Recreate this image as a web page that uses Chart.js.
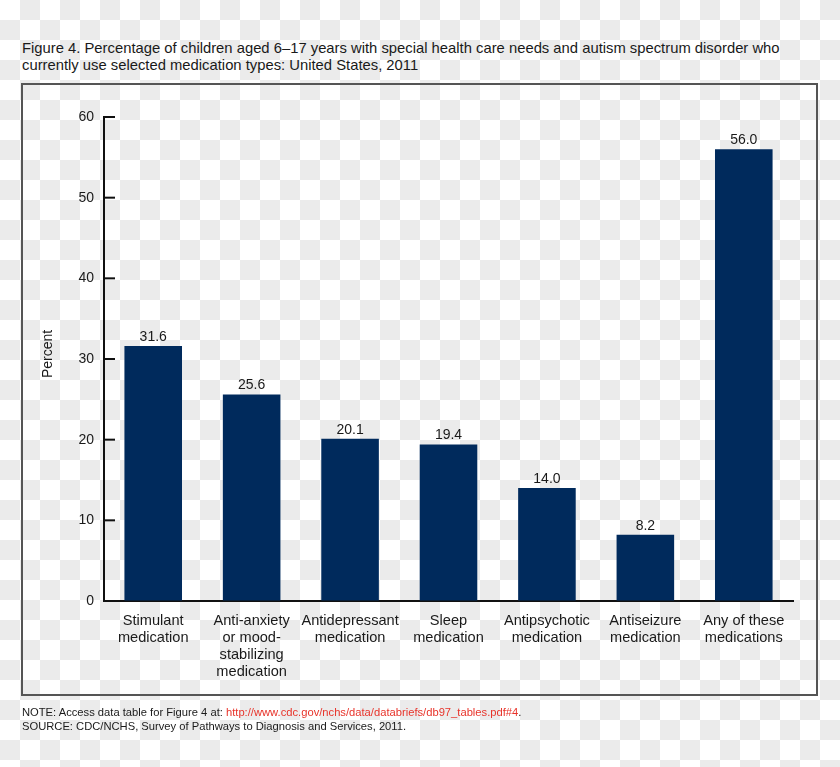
<!DOCTYPE html>
<html>
<head>
<meta charset="utf-8">
<script src="https://cdn.jsdelivr.net/npm/chart.js@4.4.0/dist/chart.umd.min.js"></script>
<style>
  html, body { margin: 0; padding: 0; }
  body {
    width: 840px; height: 767px; position: relative; overflow: hidden;
    font-family: "Liberation Sans", Arial, sans-serif; color: #1a1a1a;
    background: repeating-conic-gradient(#ebebeb 0 25%, #ffffff 0 50%) 0 0 / 40px 40px;
  }
  #title { position: absolute; left: 22px; top: 40px; font-size: 14.8px; line-height: 17px; width: 810px; white-space: nowrap; }
  #frame { position: absolute; left: 21px; top: 83px; width: 797px; height: 613px; box-sizing: border-box; border: 2px solid #555; }
  #notes { position: absolute; left: 22px; top: 705px; font-size: 11.2px; line-height: 14px; white-space: nowrap; }
  #notes span { color: #e8332a; }
  #chart { position: absolute; left: 0; top: 0; }
</style>
</head>
<body>
<div id="title">Figure 4. Percentage of children aged 6–17 years with special health care needs and autism spectrum disorder who<br>currently use selected medication types: United States, 2011</div>
<div id="frame"></div>
<canvas id="chart" width="840" height="767"></canvas>
<div id="notes">NOTE: Access data table for Figure 4 at: <span>http://www.cdc.gov/nchs/data/databriefs/db97_tables.pdf#4</span>.<br>SOURCE: CDC/NCHS, Survey of Pathways to Diagnosis and Services, 2011.</div>

<script>
// chart data
const categories = [
    ['Stimulant', 'medication'],
    ['Anti-anxiety', 'or mood-', 'stabilizing', 'medication'],
    ['Antidepressant', 'medication'],
    ['Sleep', 'medication'],
    ['Antipsychotic', 'medication'],
    ['Antiseizure', 'medication'],
    ['Any of these', 'medications']
];
const percentValues = [31.6, 25.6, 20.1, 19.4, 14.0, 8.2, 56.0];
const yTicks = [0, 10, 20, 30, 40, 50, 60];

const fontFamily = '"Liberation Sans", Arial, sans-serif';
const textColor = '#1a1a1a';

// inward tick marks, value labels and the rotated axis title
const overlay = {
    id: 'overlay',
    afterDatasetsDraw(chart) {
        const ctx = chart.ctx;
        const y = chart.scales.y;
        ctx.save();
        ctx.strokeStyle = '#111';
        ctx.lineWidth = 2;
        yTicks.forEach(function(v) {
            const py = y.getPixelForValue(v);
            ctx.beginPath();
            ctx.moveTo(y.right, py);
            ctx.lineTo(y.right + 11, py);
            ctx.stroke();
        });

        ctx.fillStyle = textColor;
        ctx.font = '14px ' + fontFamily;
        ctx.textAlign = 'center';
        ctx.textBaseline = 'bottom';
        chart.getDatasetMeta(0).data.forEach(function(bar, i) {
            ctx.fillText(percentValues[i].toFixed(1), bar.x, bar.y - 2);
        });

        const area = chart.chartArea;
        ctx.translate(48, (area.top + area.bottom) / 2 - 5);
        ctx.rotate(-Math.PI / 2);
        ctx.textBaseline = 'middle';
        ctx.fillText('Percent', 0, 0);
        ctx.restore();
    }
};

new Chart(document.getElementById('chart'), {
    type: 'bar',
    data: {
        labels: categories,
        datasets: [{
            data: percentValues,
            backgroundColor: '#002a5c',
            barPercentage: 0.585,
            categoryPercentage: 1
        }]
    },
    options: {
        responsive: false,
        animation: false,
        layout: { padding: { top: 117, right: 47, bottom: 66, left: 0 } },
        plugins: {
            legend: { display: false },
            tooltip: { enabled: false }
        },
        scales: {
            x: {
                grid: { display: false, drawTicks: false },
                border: { display: true, color: '#111', width: 2 },
                ticks: {
                    padding: 12,
                    color: textColor,
                    maxRotation: 0,
                    autoSkip: false,
                    font: { family: fontFamily, size: 14.6, lineHeight: 1.15 }
                },
                afterFit(s) { s.height = 100; }
            },
            y: {
                min: 0,
                max: 60,
                afterBuildTicks(s) { s.ticks = yTicks.map(v => ({ value: v })); },
                grid: { drawOnChartArea: false, drawTicks: false },
                border: { display: true, color: '#111', width: 2 },
                ticks: {
                    padding: 10,
                    color: textColor,
                    font: { family: fontFamily, size: 14 }
                },
                afterFit(s) { s.width = 104; }
            }
        }
    },
    plugins: [overlay]
});
</script>
</body>
</html>
